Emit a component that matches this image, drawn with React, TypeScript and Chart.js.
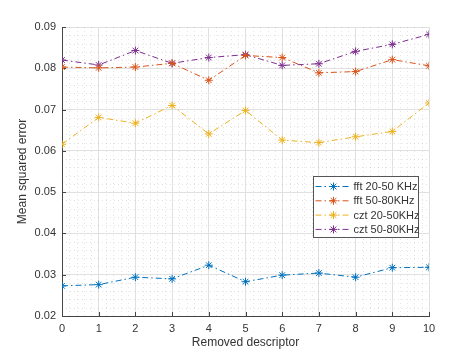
import React, { useEffect, useRef } from "react";
import { Chart, registerables } from "chart.js";

Chart.register(...registerables);

const categories = [0, 1, 2, 3, 4, 5, 6, 7, 8, 9, 10];
const fft2050 = [0.0273, 0.0276, 0.0294, 0.029, 0.0323, 0.0283, 0.0299, 0.0304, 0.0294, 0.0317, 0.0318];
const fft5080 = [0.0803, 0.0801, 0.0803, 0.0812, 0.0771, 0.0831, 0.0826, 0.0789, 0.0792, 0.0821, 0.0806];
const czt2050 = [0.0616, 0.0681, 0.0667, 0.071, 0.0641, 0.0698, 0.0626, 0.062, 0.0634, 0.0647, 0.0716];
const czt5080 = [0.082, 0.0808, 0.0843, 0.0812, 0.0826, 0.0833, 0.0807, 0.0811, 0.0841, 0.0858, 0.0882];
const seriesLabels = ["fft 20-50 KHz", "fft 50-80KHz", "czt 20-50KHz", "czt 50-80KHz"];
const seriesColors = ["#0072BD", "#D95319", "#EDB120", "#7E2F8E"];
const yTicks = [0.02, 0.09, 0.01];

const FONT = "'Liberation Sans', Arial, sans-serif";
const DASH = [6, 3, 1.5, 3];

const minorGridPlugin = {
  id: "minorGrid",
  beforeDatasetsDraw(chart: any) {
    const { ctx, chartArea } = chart;
    const xs = chart.scales.x;
    const ys = chart.scales.y;
    ctx.save();
    ctx.strokeStyle = "rgba(120,120,120,0.2)";
    ctx.lineWidth = 1;
    ctx.setLineDash([1, 3]);
    for (let i = 0; i <= 50; i++) {
      if (i % 5 === 0) continue;
      const v = i * 0.2;
      const px = Math.round(xs.getPixelForValue(v)) + 0.5;
      ctx.beginPath();
      ctx.moveTo(px, chartArea.top);
      ctx.lineTo(px, chartArea.bottom);
      ctx.stroke();
    }
    for (let i = 0; i <= 35; i++) {
      if (i % 5 === 0) continue;
      const v = 0.02 + i * 0.002;
      const py = Math.round(ys.getPixelForValue(v)) + 0.5;
      ctx.beginPath();
      ctx.moveTo(chartArea.left, py);
      ctx.lineTo(chartArea.right, py);
      ctx.stroke();
    }
    ctx.setLineDash([]);
    ctx.strokeStyle = "#444";
    for (let i = 0; i <= 10; i++) {
      const px = Math.round(xs.getPixelForValue(i)) + 0.5;
      ctx.beginPath();
      ctx.moveTo(px, chartArea.bottom);
      ctx.lineTo(px, chartArea.bottom - 4);
      ctx.stroke();
    }
    for (let i = 0; i <= 7; i++) {
      const py = Math.round(ys.getPixelForValue(0.02 + i * 0.01)) + 0.5;
      ctx.beginPath();
      ctx.moveTo(chartArea.left, py);
      ctx.lineTo(chartArea.left + 4, py);
      ctx.stroke();
    }
    ctx.restore();
  },
};

const legendPlugin = {
  id: "customLegend",
  afterDatasetsDraw(chart: any) {
    const { ctx } = chart;
    const x0 = 313.5, y0 = 176.5, w = 105, h = 61;
    ctx.save();
    ctx.fillStyle = "#ffffff";
    ctx.fillRect(x0, y0, w, h);
    ctx.strokeStyle = "#555";
    ctx.lineWidth = 1;
    ctx.strokeRect(x0, y0, w, h);
    chart.data.datasets.forEach((ds: any, i: number) => {
      const cy = y0 + 10 + i * 14.3;
      ctx.strokeStyle = ds.borderColor;
      ctx.lineWidth = 1;
      ctx.setLineDash(DASH);
      ctx.beginPath();
      ctx.moveTo(x0 + 2, cy);
      ctx.lineTo(x0 + 38, cy);
      ctx.stroke();
      ctx.setLineDash([]);
      const r = 4;
      const mx = x0 + 20;
      ctx.beginPath();
      for (let k = 0; k < 4; k++) {
        const a = (k * Math.PI) / 4;
        ctx.moveTo(mx - r * Math.cos(a), cy - r * Math.sin(a));
        ctx.lineTo(mx + r * Math.cos(a), cy + r * Math.sin(a));
      }
      ctx.stroke();
      ctx.fillStyle = "#333";
      ctx.font = `11px ${FONT}`;
      ctx.textBaseline = "middle";
      ctx.textAlign = "left";
      ctx.fillText(ds.label, x0 + 40, cy + 0.5);
    });
    ctx.restore();
  },
};

export default function App() {
  const ref = useRef<HTMLCanvasElement | null>(null);
  useEffect(() => {
    if (!ref.current) return;
    const all = [fft2050, fft5080, czt2050, czt5080];
    const chart = new Chart(ref.current, {
      type: "line",
      data: {
        datasets: all.map((vals, i) => ({
          label: seriesLabels[i],
          data: categories.map((c, j) => ({ x: c, y: vals[j] })),
          borderColor: seriesColors[i],
          backgroundColor: seriesColors[i],
          borderWidth: 1,
          borderDash: DASH,
          pointStyle: "star",
          pointRadius: 4,
          pointBorderWidth: 1,
          pointHoverRadius: 4,
          fill: false,
          tension: 0,
        })),
      },
      options: {
        animation: false,
        responsive: true,
        maintainAspectRatio: false,
        layout: { padding: { top: 27, right: 45, left: 0, bottom: 0 } },
        plugins: { legend: { display: false }, tooltip: { enabled: false } },
        scales: {
          x: {
            type: "linear",
            min: 0,
            max: 10,
            ticks: { stepSize: 1, color: "#333", font: { family: FONT, size: 11 }, padding: 6 },
            grid: { color: "#e0e0e0", drawTicks: false },
            border: { display: true, color: "#444" },
            title: {
              display: true,
              text: "Removed descriptor",
              color: "#333",
              font: { family: FONT, size: 12 },
              padding: { top: 0, bottom: 6 },
            },
            afterFit: (s: any) => { s.height = 40; },
          },
          y: {
            type: "linear",
            min: yTicks[0],
            max: yTicks[1],
            ticks: {
              stepSize: yTicks[2],
              color: "#333",
              font: { family: FONT, size: 11 },
              padding: 6,
              callback: (v: any) => Number(v).toFixed(2),
            },
            grid: { color: "#e0e0e0", drawTicks: false },
            border: { display: true, color: "#444" },
            title: {
              display: true,
              text: "Mean squared error",
              color: "#333",
              font: { family: FONT, size: 12 },
              padding: { top: 15, bottom: 0 },
            },
            afterFit: (s: any) => { s.width = 62; },
          },
        },
      },
      plugins: [minorGridPlugin, legendPlugin],
    } as any);
    return () => chart.destroy();
  }, []);
  return (
    <div style={{ position: "fixed", left: 0, top: 0, width: 474, height: 356, background: "#fff" }}>
      <canvas ref={ref} />
    </div>
  );
}
